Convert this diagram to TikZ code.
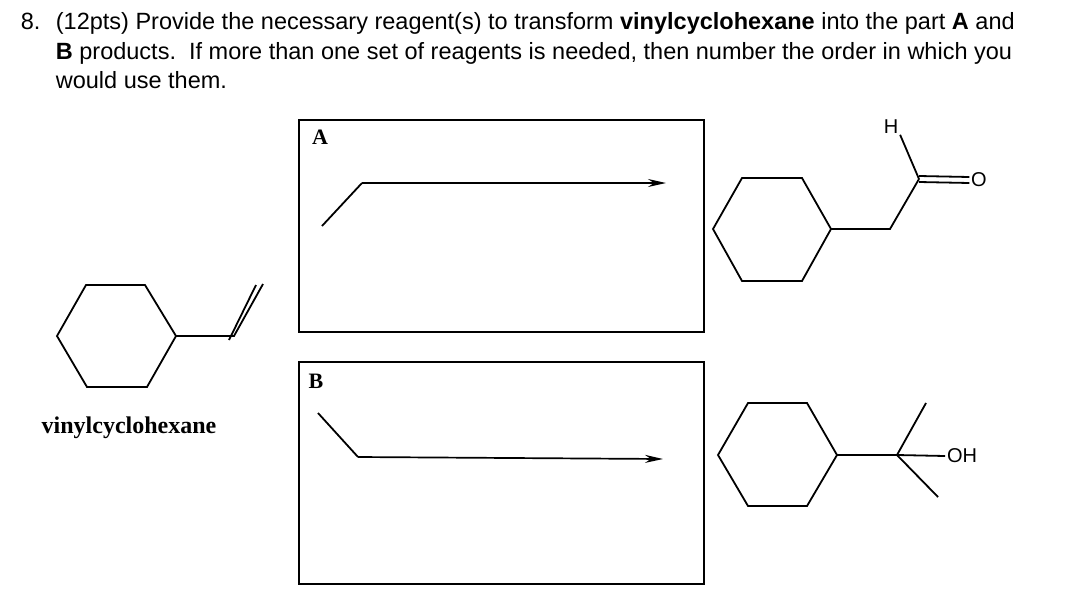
\documentclass[tikz,border=0pt]{standalone}
\usepackage{fontspec}
\setmainfont{Liberation Sans}
\newfontfamily\serifbf{Liberation Serif}
\usetikzlibrary{arrows.meta}
\begin{document}
\begin{tikzpicture}[x=1pt,y=-1pt,line width=1.8pt,
  hdr/.style={anchor=base west,inner sep=0pt,font=\fontsize{23.5}{28}\selectfont},
  atom/.style={inner sep=0pt,font=\fontsize{20}{24}\selectfont},
  boxlbl/.style={inner sep=0pt,font=\serifbf\bfseries\fontsize{22}{26}\selectfont},
  box/.style={draw,line width=2pt},
  rxn/.style={-{Stealth[length=18pt,width=8pt]},line width=1.7pt}]
\useasboundingbox (0,0) rectangle (1068,608);
% header
\node[hdr] (n8) at (20,29) {8.};
\node[hdr] (l1) at (55,29) {(12pts) Provide the necessary reagent(s) to transform \textbf{vinylcyclohexane} into the part \textbf{A} and};
\node[hdr] (l2) at (55,59) {\textbf{B} products.\ \ If more than one set of reagents is needed, then number the order in which you};
\node[hdr] (l3) at (55,88) {would use them.};
% starting material
\coordinate (s1) at (86,285); \coordinate (s2) at (145,285); \coordinate (s3) at (176,336);
\coordinate (s4) at (147,387); \coordinate (s5) at (87,387); \coordinate (s6) at (57,336);
\coordinate (v1) at (234,336); \coordinate (v2) at (263,284);
\draw (s1)--(s2)--(s3)--(s4)--(s5)--(s6)--cycle;
\draw (s3)--(v1)--(v2);
\draw ([xshift=-5pt,yshift=-4pt]v1) -- ([xshift=-7pt,yshift=-1pt]v2);
\node[inner sep=0pt,font=\serifbf\bfseries\fontsize{24}{28}\selectfont] (vname) at (129,428) {vinylcyclohexane};
% boxes
\node[box,minimum width=405pt,minimum height=212pt,anchor=north west,inner sep=0pt] (boxA) at (298,119) {};
\node[box,minimum width=405pt,minimum height=222pt,anchor=north west,inner sep=0pt] (boxB) at (298,361) {};
\node[boxlbl] (labA) at (320,137) {A};
\node[boxlbl] (labB) at (316,381) {B};
\coordinate (a0) at (322,226); \coordinate (a1) at (362,183); \coordinate (a2) at (666,183);
\draw (a0)--(a1); \draw[rxn] (a1)--(a2);
\coordinate (b0) at (318,413); \coordinate (b1) at (358,457); \coordinate (b2) at (663,459);
\draw (b0)--(b1); \draw[rxn] (b1)--(b2);
% product A
\coordinate (p1) at (742,178); \coordinate (p2) at (802,178); \coordinate (p3) at (831,229);
\coordinate (p4) at (802,281); \coordinate (p5) at (742,281); \coordinate (p6) at (713,229);
\draw (p1)--(p2)--(p3)--(p4)--(p5)--(p6)--cycle;
\coordinate (c1) at (890,229); \coordinate (c2) at (919,179);
\node[atom] (H) at (891,127) {H};
\node[atom] (O) at (979,180) {O};
\draw (p3)--(c1)--(c2);
\draw (c2)--([xshift=1pt]H.south east);
\draw ([yshift=-3pt]c2)--([yshift=-3pt,xshift=-1pt]O.west);
\draw ([yshift=3pt]c2)--([yshift=3pt,xshift=-1pt]O.west);
% product B
\coordinate (q1) at (748,403); \coordinate (q2) at (807,403); \coordinate (q3) at (837,455);
\coordinate (q4) at (807,506); \coordinate (q5) at (748,506); \coordinate (q6) at (718,455);
\draw (q1)--(q2)--(q3)--(q4)--(q5)--(q6)--cycle;
\coordinate (t) at (897,455); \coordinate (m1) at (926,403); \coordinate (m2) at (938,497);
\node[atom] (OH) at (962,456) {OH};
\draw (q3)--(t)--([xshift=-1pt]OH.west);
\draw (t)--(m1); \draw (t)--(m2);
\end{tikzpicture}
\end{document}
